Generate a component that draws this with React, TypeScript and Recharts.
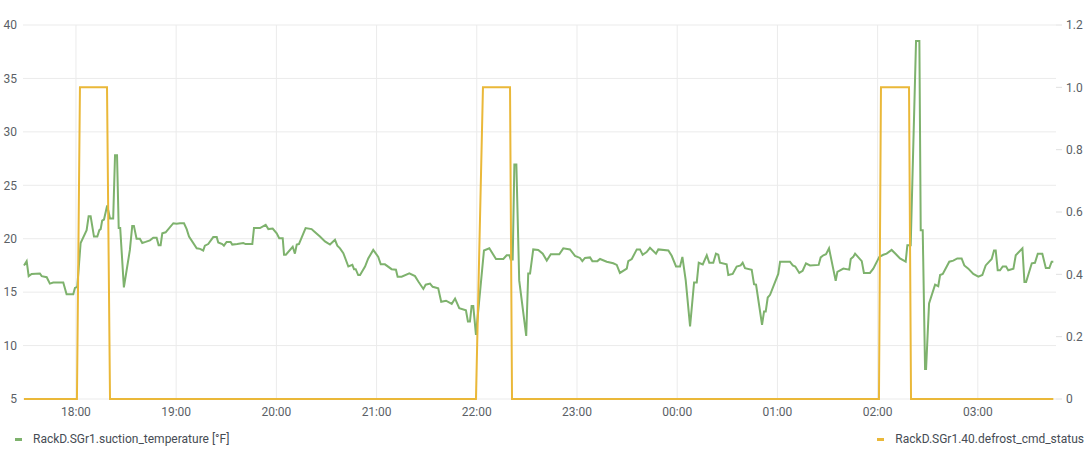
import { LineChart, Line, XAxis, YAxis, CartesianGrid } from 'recharts'

// minutes relative to 18:00
const tempTimes = [
  -31.1, -29.5, -28.3, -26.5, -21.6, -20.5, -17.5, -15.6, -13.6, -7.6, -5.6, -1.6, -0.6, 0.8, 2.8, 6.4, 7.6, 8.8,
  10.8, 12.8, 14.0, 14.8, 15.7, 16.8, 18.7, 20.4, 22.3, 23.4, 24.6, 25.6, 26.5, 28.7, 32.3, 33.7, 34.7, 36.3,
  38.3, 39.7, 41.7, 44.3, 46.3, 48.3, 49.5, 50.7, 51.7, 53.7, 58.3, 60.3, 62.3, 64.7, 66.3, 67.7, 72.3, 74.3,
  76.2, 77.2, 79.2, 82.2, 84.3, 85.2, 87.6, 88.6, 90.2, 92.6, 93.6, 96.6, 100.2, 101.6, 105.6, 106.6, 110.2,
  113.6, 115.2, 117.8, 120.2, 121.7, 123.8, 124.6, 125.7, 129.8, 131.1, 132.2, 133.5, 137.5, 141.1, 142.5,
  146.1, 149.1, 152.1, 155.1, 156.5, 158.1, 160.1, 163.1, 165.5, 166.5, 167.5, 169.0, 170.1, 173.1, 175.0,
  178.0, 181.0, 182.5, 185.0, 189.0, 191.6, 192.6, 195.0, 199.6, 203.0, 205.0, 208.0, 209.4, 212.0, 213.6,
  216.9, 218.7, 221.6, 225.0, 227.0, 229.5, 233.5, 234.7, 235.9, 236.9, 237.9, 239.5, 244.3, 247.5, 251.5,
  255.9, 257.9, 259.5, 260.3, 261.5, 262.5, 263.7, 265.4, 269.6, 270.8, 271.9, 273.8, 276.8, 279.5, 281.9,
  284.3, 289.4, 291.8, 295.8, 298.8, 301.8, 303.2, 304.8, 307.8, 309.2, 312.2, 313.8, 317.8, 321.7, 323.8,
  325.7, 329.8, 330.7, 332.8, 335.8, 337.7, 339.3, 341.7, 343.7, 347.3, 348.7, 354.7, 356.7, 359.3, 361.7,
  363.1, 365.1, 367.7, 370.1, 371.7, 372.9, 375.3, 377.7, 379.2, 381.6, 383.2, 384.6, 385.6, 389.6, 390.6,
  393.2, 395.6, 398.0, 399.2, 400.6, 404.6, 406.0, 407.2, 410.8, 412.0, 413.0, 414.2, 415.6, 420.5, 421.6,
  427.5, 429.2, 430.7, 433.1, 435.1, 437.1, 439.5, 444.7, 445.9, 447.5, 449.1, 450.9, 454.9, 455.9, 459.5,
  463.0, 463.9, 465.4, 466.5, 470.5, 471.8, 475.4, 477.4, 481.0, 483.4, 485.4, 488.4, 491.0, 493.4, 496.8,
  497.8, 499.8, 503.0, 505.0, 505.8, 507.0, 508.4, 509.0, 510.8, 514.4, 516.3, 517.4, 519.0, 522.9, 525.3,
  527.7, 530.3, 531.9, 534.3, 537.3, 540.3, 542.7, 544.7, 548.3, 549.7, 550.7, 551.9, 553.3, 554.9, 556.9,
  558.2, 561.3, 562.7, 566.7, 567.9, 568.9, 572.3, 574.2, 575.9, 578.6, 580.7, 582.8, 584.2, 585.2,
]
const tempValues = [
  17.5, 17.9, 16.5, 16.7, 16.75, 16.5, 16.4, 15.8, 15.9, 15.9, 14.8, 14.8, 15.4, 15.5, 19.6, 20.8, 22.1, 22.1,
  20.2, 20.2, 20.8, 20.9, 21.7, 21.8, 23.1, 21.9, 21.9, 27.8, 27.8, 21.0, 21.0, 15.45, 18.95, 21.2, 21.2, 20.0,
  20.0, 19.6, 19.7, 19.85, 20.1, 20.1, 19.4, 19.4, 20.5, 20.6, 21.45, 21.4, 21.45, 21.45, 20.9, 20.2, 19.1, 19.05,
  18.9, 19.35, 19.5, 20.15, 20.15, 19.65, 19.5, 19.35, 19.7, 19.7, 19.45, 19.5, 19.6, 19.5, 19.5, 21.0, 21.0,
  21.3, 20.9, 20.95, 20.5, 20.05, 20.05, 18.5, 18.5, 19.25, 18.6, 19.45, 19.5, 21.0, 20.9, 20.7,
  20.2, 19.75, 19.45, 19.9, 19.35, 19.1, 18.65, 17.4, 17.55, 17.15, 17.15, 16.6, 16.6, 17.4, 18.15,
  18.95, 18.3, 17.6, 17.6, 17.15, 17.1, 16.45, 16.45, 16.75, 16.5, 16.0, 15.3, 15.7, 15.8, 15.5,
  15.35, 14.1, 14.2, 13.9, 14.4, 13.5, 13.3, 12.25, 12.25, 13.7, 13.7, 11.0, 18.9, 19.1, 18.1,
  18.1, 18.45, 18.45, 18.05, 18.05, 26.95, 26.95, 16.1, 10.9, 16.75, 16.75, 19.0, 18.95, 18.6, 17.95,
  18.55, 18.55, 19.1, 19.0, 18.4, 18.2, 17.9, 18.2, 18.25, 17.9, 17.9, 18.1, 17.85, 17.7, 17.55,
  16.8, 17.2, 17.9, 18.1, 19.0, 19.0, 18.5, 18.75, 19.15, 18.6, 19.0, 18.9, 18.4, 17.4, 17.4,
  18.3, 16.1, 11.8, 15.9, 15.9, 17.75, 17.6, 18.45, 17.75, 17.75, 18.6, 18.5, 17.75, 17.6, 16.6,
  16.7, 17.4, 17.5, 17.75, 17.25, 17.1, 15.75, 15.7, 11.95, 13.2, 13.2, 14.5, 14.75, 16.7, 17.85,
  17.85, 17.5, 17.4, 16.8, 17.0, 17.7, 17.5, 17.55, 18.25, 18.45, 18.55, 19.1, 16.05, 16.9, 17.2,
  17.1, 18.1, 18.3, 18.6, 17.9, 16.8, 16.8, 17.2, 18.3, 18.5, 18.6, 18.95, 18.55, 18.15, 17.85,
  19.4, 19.4, 38.5, 38.5, 20.8, 20.8, 7.8, 7.8, 13.95, 15.7, 15.55, 16.6, 16.7, 17.85, 17.95,
  18.15, 18.15, 17.5, 17.2, 16.7, 16.45, 16.6, 17.5, 18.1, 18.9, 18.9, 17.05, 17.05, 17.4, 17.4,
  17.05, 17.2, 18.45, 19.1, 15.95, 15.95, 17.7, 17.75, 18.6, 18.6, 17.25, 17.25, 17.85, 17.85,
]

const defrostTimes = [-31.1, 0.6, 2.4, 18.6, 20.4, 239.5, 243.7, 259.9, 261.1, 480.8, 482.0, 498.8, 500.0, 585.2]
const defrostValues = [0, 0, 1, 1, 0, 0, 1, 1, 0, 0, 1, 1, 0, 0]

const hourTicks = [0, 60, 120, 180, 240, 300, 360, 420, 480, 540]
const hourLabels = ['18:00', '19:00', '20:00', '21:00', '22:00', '23:00', '00:00', '01:00', '02:00', '03:00']
const tempTicks = [5, 10, 15, 20, 25, 30, 35, 40]
const statusTicks = [0, 0.2, 0.4, 0.6, 0.8, 1.0, 1.2]

const tempName = 'RackD.SGr1.suction_temperature [°F]'
const defrostName = 'RackD.SGr1.40.defrost_cmd_status'

const tempData = tempTimes.map((t, i) => ({ t, v: tempValues[i] }))
const defrostData = defrostTimes.map((t, i) => ({ t, v: defrostValues[i] }))

const GREEN = '#7EB26D'
const YELLOW = '#EAB839'
const tickStyle = { fontSize: 12, fill: '#5b5f66', fontFamily: 'Roboto' }

export default function App() {
  return (
    <div style={{ position: 'absolute', left: 0, top: 0, width: 1088, height: 452, background: '#fff', fontFamily: 'Roboto' }}>
      <LineChart width={1088} height={420} margin={{ top: 25, right: 0, bottom: 0, left: 0 }}>
        <CartesianGrid stroke="#ebebeb" yAxisId="left" syncWithTicks />
        <XAxis
          type="number"
          dataKey="t"
          domain={[-31.7, 586.8]}
          allowDataOverflow
          ticks={hourTicks}
          tickFormatter={(v: number) => hourLabels[hourTicks.indexOf(v)]}
          tick={tickStyle}
          axisLine={false}
          tickLine={false}
          tickSize={0}
          tickMargin={8}
          height={21}
        />
        <YAxis
          yAxisId="left"
          domain={[5, 40]}
          ticks={tempTicks}
          tick={tickStyle}
          axisLine={false}
          tickLine={false}
          tickSize={4}
          tickMargin={2}
          width={23}
        />
        <YAxis
          yAxisId="right"
          orientation="right"
          domain={[0, 1.2]}
          ticks={statusTicks}
          tickFormatter={(v: number) => (v === 0 ? '0' : v.toFixed(1))}
          tick={tickStyle}
          axisLine={false}
          tickLine={{ stroke: '#e0e0e0' }}
          tickSize={6}
          tickMargin={4}
          width={32}
        />
        <Line yAxisId="left" data={tempData} dataKey="v" name={tempName} type="linear" stroke={GREEN} strokeWidth={2} dot={false} isAnimationActive={false} />
        <Line yAxisId="right" data={defrostData} dataKey="v" name={defrostName} type="linear" stroke={YELLOW} strokeWidth={2} dot={false} isAnimationActive={false} />
      </LineChart>
      <div style={{ position: 'absolute', top: 430, left: 0, width: 1088, height: 18, display: 'flex', justifyContent: 'space-between', alignItems: 'center', fontSize: 12, color: '#464c54' }}>
        <div style={{ display: 'flex', alignItems: 'center', marginLeft: 15 }}>
          <span style={{ width: 7, height: 3, background: GREEN, display: 'inline-block', marginRight: 11 }} />
          <span>{tempName}</span>
        </div>
        <div style={{ display: 'flex', alignItems: 'center', marginRight: 4 }}>
          <span style={{ width: 7, height: 3, background: YELLOW, display: 'inline-block', marginRight: 11 }} />
          <span>{defrostName}</span>
        </div>
      </div>
    </div>
  )
}
